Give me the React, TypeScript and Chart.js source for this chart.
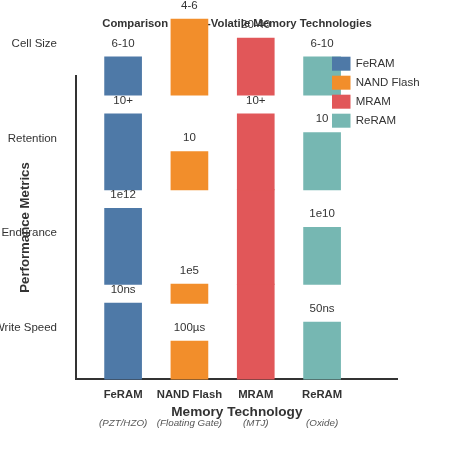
import React, { useEffect, useRef } from "react";
import { Chart, registerables } from "chart.js";

Chart.register(...registerables);

// Rows (bottom to top) and technologies
const metrics = ["Write Speed", "Endurance", "Retention", "Cell Size"];
const technologies = ["FeRAM", "NAND Flash", "MRAM", "ReRAM"];
const technologyNotes = ["(PZT/HZO)", "(Floating Gate)", "(MTJ)", "(Oxide)"];

// Relative score of each technology per metric row (row-relative bar height)
const feramScores = [0.8, 0.8, 0.8, 0.4];
const nandScores = [0.4, -0.2, 0.4, 0.8];
const mramScores = [1.0, 1.0, 0.8, 0.6];
const reramScores = [0.6, 0.6, 0.6, 0.4];

// Value annotations per metric row
const feramLabels = ["10ns", "1e12", "10+", "6-10"];
const nandLabels = ["100µs", "1e5", "10", "4-6"];
const mramLabels = ["", "", "10+", "20-40"];
const reramLabels = ["50ns", "1e10", "10", "6-10"];

const colors = ["#4e79a7", "#f28e2b", "#e15759", "#76b7b2"];

const TITLE = "Comparison of Non-Volatile Memory Technologies";
const FONT = "'Liberation Sans', Arial, sans-serif";
const TEXT = "#333333";

const allScores = [feramScores, nandScores, mramScores, reramScores];
const allLabels = [feramLabels, nandLabels, mramLabels, reramLabels];

export default function App() {
  const ref = useRef<HTMLCanvasElement | null>(null);

  useEffect(() => {
    if (!ref.current) return;

    const datasets = technologies.map((tech, t) => ({
      label: tech,
      data: allScores[t].map((s, row) => ({ x: t, y: [row, row + s] })),
      annotations: allLabels[t],
      scores: allScores[t],
      backgroundColor: colors[t],
      borderWidth: 0,
      inflateAmount: 0.5,
      categoryPercentage: 1,
      barPercentage: 0.553,
      grouped: false,
      clip: false as const,
    }));

    // Title sits behind the bars, centred on the canvas
    const titleBehind = {
      id: "titleBehind",
      beforeDatasetsDraw(chart: any) {
        const { ctx } = chart;
        ctx.save();
        ctx.font = `bold 11.3px ${FONT}`;
        ctx.fillStyle = TEXT;
        ctx.textAlign = "center";
        ctx.textBaseline = "middle";
        ctx.fillText(TITLE, chart.width / 2, 24);
        ctx.restore();
      },
    };

    const valueLabels = {
      id: "valueLabels",
      afterDatasetsDraw(chart: any) {
        const { ctx } = chart;
        const xs = chart.scales.x;
        const ys = chart.scales.y;
        ctx.save();
        ctx.font = `11.5px ${FONT}`;
        ctx.fillStyle = TEXT;
        ctx.textAlign = "center";
        ctx.textBaseline = "middle";
        chart.data.datasets.forEach((ds: any, t: number) => {
          ds.scores.forEach((s: number, row: number) => {
            const txt = ds.annotations[row];
            if (!txt) return;
            const top = row + Math.max(s, 0);
            ctx.fillText(txt, xs.getPixelForValue(t), ys.getPixelForValue(top + 0.143));
          });
        });
        ctx.restore();
      },
    };

    const legendBoxes = {
      id: "legendBoxes",
      afterDatasetsDraw(chart: any) {
        const { ctx, chartArea } = chart;
        const x0 = chartArea.right - 65.7;
        const y0 = chartArea.top - 19.3;
        ctx.save();
        ctx.font = `11.5px ${FONT}`;
        ctx.textAlign = "left";
        ctx.textBaseline = "middle";
        chart.data.datasets.forEach((ds: any, i: number) => {
          const y = y0 + i * 19;
          ctx.fillStyle = ds.backgroundColor;
          ctx.fillRect(x0, y, 18.5, 14);
          ctx.fillStyle = TEXT;
          ctx.fillText(ds.label, x0 + 23.7, y + 7.3);
        });
        ctx.restore();
      },
    };

    const technologyNotesPlugin = {
      id: "technologyNotes",
      afterDraw(chart: any) {
        const { ctx } = chart;
        const xs = chart.scales.x;
        ctx.save();
        ctx.font = `italic 9.8px ${FONT}`;
        ctx.fillStyle = "#555555";
        ctx.textAlign = "center";
        ctx.textBaseline = "middle";
        technologyNotes.forEach((n, i) => {
          ctx.fillText(n, xs.getPixelForValue(i), xs.top + 44.3);
        });
        ctx.restore();
      },
    };

    const chart = new Chart(ref.current, {
      type: "bar",
      data: { datasets: datasets as any },
      plugins: [titleBehind, valueLabels, legendBoxes, technologyNotesPlugin],
      options: {
        animation: false,
        responsive: false,
        layout: { padding: { left: 0, right: 76.3, top: 76, bottom: 0 } },
        plugins: {
          legend: { display: false },
          tooltip: { enabled: false },
          title: { display: false },
        },
        scales: {
          x: {
            type: "linear",
            offset: false,
            min: -0.71,
            max: 4.14,
            afterBuildTicks(scale: any) {
              scale.ticks = technologies.map((_, i) => ({ value: i }));
            },
            afterFit(scale: any) {
              scale.height = 95;
            },
            ticks: {
              autoSkip: false,
              maxRotation: 0,
              padding: 8.7,
              color: TEXT,
              font: { family: FONT, size: 11.3, weight: "bold" },
              callback: (_v: any, i: number) => technologies[i],
            },
            grid: { display: false, drawTicks: false, offset: false },
            border: { display: true, color: TEXT, width: 2 },
            title: {
              display: true,
              text: "Memory Technology",
              color: TEXT,
              font: { family: FONT, size: 13.6, weight: "bold", lineHeight: 1.2 },
              padding: { top: 0, bottom: 53.1 },
            },
          },
          y: {
            type: "linear",
            min: 0,
            max: 3.2,
            afterBuildTicks(scale: any) {
              scale.ticks = metrics.map((_, i) => ({ value: i + 0.54 }));
            },
            afterFit(scale: any) {
              scale.width = 76;
            },
            ticks: {
              autoSkip: false,
              padding: 19,
              color: TEXT,
              font: { family: FONT, size: 11.5 },
              callback: (_v: any, i: number) => metrics[i],
            },
            grid: { display: false, drawTicks: false },
            border: { display: true, color: TEXT, width: 2 },
            title: {
              display: true,
              text: "Performance Metrics",
              color: TEXT,
              font: { family: FONT, size: 13.2, weight: "bold", lineHeight: 1.2 },
              padding: { top: 17.4, bottom: 0 },
            },
          },
        },
      } as any,
    });

    return () => chart.destroy();
  }, []);

  return (
    <div style={{ position: "fixed", left: 0, top: 0, width: 474, height: 474, background: "#ffffff" }}>
      <canvas ref={ref} width={474} height={474} style={{ display: "block", width: 474, height: 474 }} />
    </div>
  );
}
